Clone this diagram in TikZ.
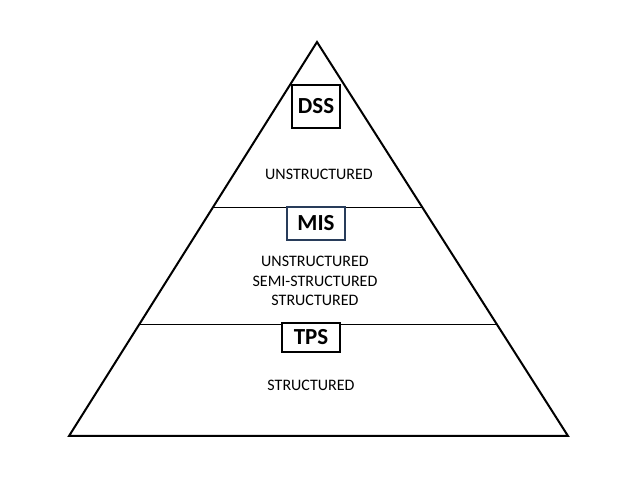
\documentclass[tikz,border=0pt]{standalone}
\usepackage{fontspec}
\setmainfont{Carlito}
\definecolor{misblue}{RGB}{40,60,90}
\begin{document}
\begin{tikzpicture}[x=1pt,y=-1pt,
  lbl/.style={font=\fontsize{16}{19.5}\selectfont,align=center},
  box/.style={draw,line width=1.4pt,font=\fontsize{23}{25}\selectfont\bfseries,inner sep=0pt}]
\useasboundingbox (0,0) rectangle (638,478);
\coordinate (apex) at (317,42);
\coordinate (bl) at (69,436);
\coordinate (br) at (568,436);
\draw[line width=2pt,line join=miter] (apex) -- (bl) -- (br) -- cycle;
\coordinate (l1) at (213.1,207); \coordinate (r1) at (422.1,207);
\coordinate (l2) at (139.5,324); \coordinate (r2) at (496.3,324);
\draw[line width=0.8pt] (l1) -- (r1);
\draw[line width=0.8pt] (l2) -- (r2);
\node[box,fill=white,minimum width=48pt,minimum height=43pt] (dss) at (316,106.5) {DSS};
\node[box,draw=misblue,fill=white,minimum width=58pt,minimum height=33pt] (mis) at (316,223.5) {MIS};
\node[box,fill=white,minimum width=58pt,minimum height=29pt] (tps) at (311,337.5) {TPS};
\node[lbl] (t1) at (319,174) {UNSTRUCTURED};
\node[lbl] (t2) at (315,281) {UNSTRUCTURED\\SEMI-STRUCTURED\\STRUCTURED};
\node[lbl] (t3) at (311,385) {STRUCTURED};
\end{tikzpicture}
\end{document}
